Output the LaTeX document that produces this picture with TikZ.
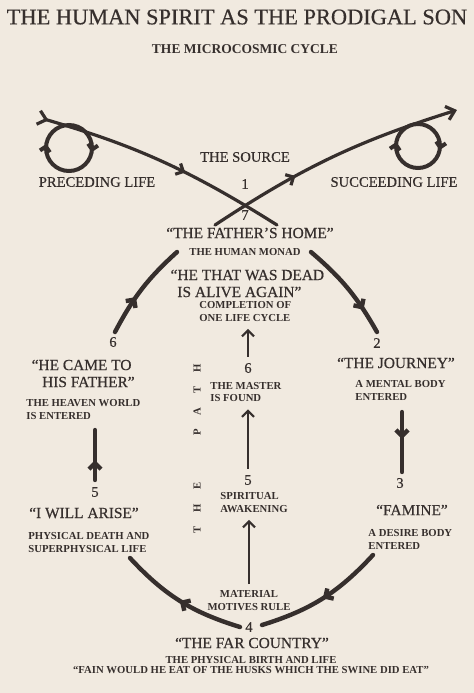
\documentclass[tikz,border=0pt]{standalone}
\usepackage{fontspec}
\setmainfont{Liberation Serif}
\newfontfamily\heavyserif{Liberation Serif}[FakeBold=0.5]
\usetikzlibrary{arrows.meta,decorations.markings}

\definecolor{paper}{RGB}{241,234,224}
\definecolor{ink}{RGB}{54,47,45}

\tikzset{
	lbl/.style={inner sep=0pt,text=ink},
	head/.style={lbl,font=\heavyserif\fontsize{11.2}{13}\selectfont},
	subhead/.style={lbl,font=\bfseries\fontsize{6.75}{8}\selectfont},
	big/.style={lbl,font=\heavyserif\fontsize{7.7}{8.5}\selectfont},
	mid/.style={lbl,font=\heavyserif\fontsize{7.3}{8.5}\selectfont},
	small/.style={lbl,font=\bfseries\fontsize{5.35}{6.3}\selectfont},
	ray/.style={ink,line width=1.6pt,line cap=round},
	ring/.style={ink,line width=2.2pt,line cap=round},
	midtip/.style={postaction={decorate,decoration={markings,mark=at position #1 with {\arrow{Straight Barb[length=3pt,width=6pt]}}}}},
	whirl/.style={ink,line width=2pt,postaction={decorate,decoration={markings,
		mark=at position .03 with {\arrow{Straight Barb[length=2.5pt,width=5pt]}},
		mark=at position .53 with {\arrow{Straight Barb[length=2.5pt,width=5pt]}}}}},
	pathtip/.style={ink,line width=1.1pt,-{Straight Barb[length=3pt,width=6pt]},shorten <=3pt,shorten >=3.5pt},
}

\begin{document}
\begin{tikzpicture}[x=0.5pt,y=-0.5pt]
	\fill[paper] (0,0) rectangle (474,693);
	% heading
	\node[head] (title) at (237,17) {THE HUMAN SPIRIT AS THE PRODIGAL SON};
	\node[subhead] (subtitle) at (245,49) {THE MICROCOSMIC CYCLE};

	% the source, with the lives before and after
	\node[mid] (source) at (245,157) {THE SOURCE};
	\node[mid] (preceding) at (97,182) {PRECEDING LIFE};
	\node[mid] (succeeding) at (394,182) {SUCCEEDING LIFE};
	\node[mid] (n1) at (245,184) {1};
	\node[mid] (n7) at (245,215) {7};
	\coordinate (inL) at (37,117);
	\coordinate (inR) at (277,225);
	\coordinate (outL) at (215,225);
	\coordinate (outR) at (457,110);
	\coordinate (loopL) at (69,148);
	\coordinate (loopR) at (418,146);
	\draw[ray,{Straight Barb[reversed,length=4pt,width=7pt]}-,midtip=.6] (inL) to[bend left=8] (inR);
	\draw[ray,-{Straight Barb[length=4pt,width=7pt]},midtip=.35] (outL) to[bend left=8] (outR);
	\draw[whirl] (loopL) circle[radius=23];
	\draw[whirl] (loopR) circle[radius=22];

	% stations of the cycle
	\node[big] (father) at (250,233) {“THE FATHER’S HOME”};
	\node[small] (monad) at (245,252) {THE HUMAN MONAD};
	\node[big,align=left,anchor=west] (dead) at (177,283.5) {\llap{“}HE THAT WAS DEAD\\IS ALIVE AGAIN”};
	\node[small,align=left,anchor=west] (completion) at (199,311.5) {COMPLETION OF\\ONE LIFE CYCLE};

	\node[mid] (n2) at (377,343) {2};
	\node[big] (journey) at (396,363) {“THE JOURNEY”};
	\node[small,align=left,anchor=west] (mental) at (355,390.5) {A MENTAL BODY\\ENTERED};
	\node[mid] (n3) at (400,483) {3};
	\node[big] (famine) at (412,510) {“FAMINE”};
	\node[small,align=left,anchor=west] (desire) at (368,539.5) {A DESIRE BODY\\ENTERED};

	\node[small,align=center] (material) at (249,600.5) {MATERIAL\\MOTIVES RULE};
	\node[mid] (n4) at (249,627) {4};
	\node[big] (far) at (252,643) {“THE FAR COUNTRY”};
	\node[small] (birth) at (251,660) {THE PHYSICAL BIRTH AND LIFE};
	\node[small] (fain) at (251,670) {“FAIN WOULD HE EAT OF THE HUSKS WHICH THE SWINE DID EAT”};

	\node[mid] (n6) at (113,342) {6};
	\node[big,align=center] (came) at (85,373.5) {\llap{“}HE CAME TO\\HIS FATHER\rlap{”}};
	\node[small,align=left,anchor=west] (heaven) at (26,409.5) {THE HEAVEN WORLD\\IS ENTERED};
	\node[mid] (n5) at (95,492) {5};
	\node[big] (arise) at (84,513) {“I WILL ARISE”};
	\node[small,align=left,anchor=west] (death) at (28,542.5) {PHYSICAL DEATH AND\\SUPERPHYSICAL LIFE};

	% the path up the middle
	\node[mid] (m6) at (248,368) {6};
	\node[small,align=left,anchor=west] (master) at (210,392) {THE MASTER\\IS FOUND};
	\node[mid] (m5) at (248,480) {5};
	\node[small,align=left,anchor=west] (spiritual) at (220,502.5) {SPIRITUAL\\AWAKENING};
	\node[small,rotate=90] (path) at (197,448.5) {T\hspace{7pt}H\hspace{7pt}E\hspace{23.5pt}P\hspace{7pt}A\hspace{7pt}T\hspace{7pt}H};

	% the cycle
	\coordinate (c6) at (115,332);
	\coordinate (c7a) at (177,252);
	\coordinate (c7b) at (311,252);
	\coordinate (c2) at (377,332);
	\coordinate (c2b) at (402,412);
	\coordinate (c3) at (402,472);
	\coordinate (c3b) at (373,555);
	\coordinate (c4a) at (262,625);
	\coordinate (c4b) at (240,627);
	\coordinate (c5) at (130,558);
	\coordinate (c5b) at (95,480);
	\coordinate (c6b) at (95,430);
	\draw[ring,midtip=.4] (c6) to[bend left=10] (c7a);
	\draw[ring,midtip=.75] (c7b) to[bend left=10] (c2);
	\draw[ring,midtip=.45] (c2b) -- (c3);
	\draw[ring,midtip=.5] (c3b) to[bend left=15] (c4a);
	\draw[ring,midtip=.5] (c4b) to[bend left=15] (c5);
	\draw[ring,midtip=.4] (c5b) -- (c6b);

	\draw[pathtip] (m6.north) -- (m6.north |- completion.south);
	\draw[pathtip] (m5.north) -- (m5.north |- master.south);
	\draw[pathtip] (material.north) -- (material.north |- spiritual.south);
\end{tikzpicture}
\end{document}
